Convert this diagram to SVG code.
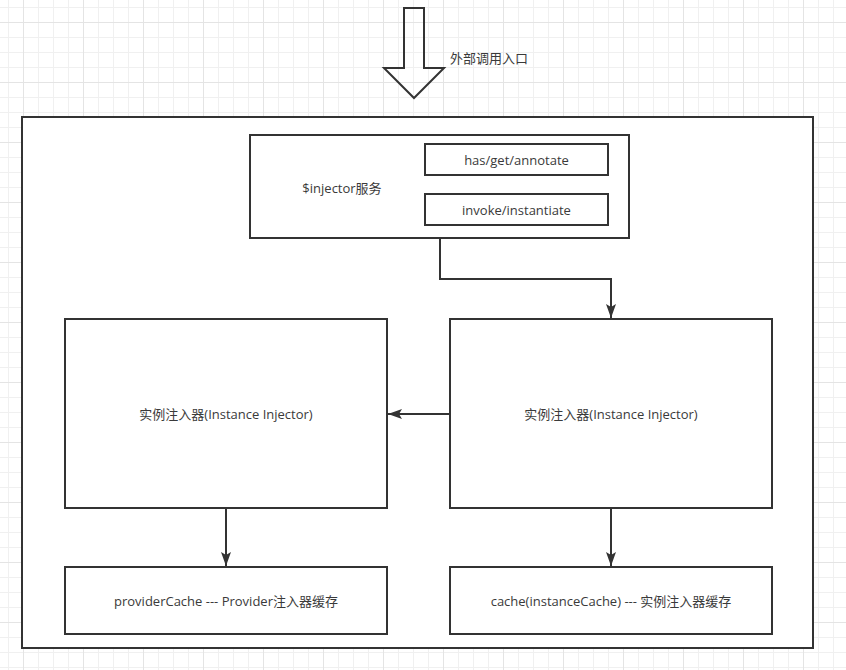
<svg xmlns="http://www.w3.org/2000/svg" width="846" height="670" viewBox="0 0 846 670">
  <style>
    .box { fill: #ffffff; stroke: #333333; stroke-width: 2; }
    .line { fill: none; stroke: #333333; stroke-width: 2; }
    .lbl { font-family: "Open Sans", "Noto Sans CJK SC", sans-serif; font-size: 13px; fill: #3a3a3a; dominant-baseline: central; }
    .mid { text-anchor: middle; }
  </style>
  <defs>
    <pattern id="grid" x="23" y="22" width="60" height="60" patternUnits="userSpaceOnUse">
      <path d="M15.5 0V60M30.5 0V60M45.5 0V60M0 15.5H60M0 30.5H60M0 45.5H60" stroke="#f0f0f0" stroke-width="1" fill="none"/>
      <path d="M0.5 0V60M0 0.5H60" stroke="#e4e4e4" stroke-width="1" fill="none"/>
    </pattern>
    <marker id="arr" viewBox="0 0 14 10" refX="14" refY="5" markerWidth="14" markerHeight="10" markerUnits="userSpaceOnUse" orient="auto">
      <path d="M0 0L14 5L0 10L3 5Z" fill="#333333"/>
    </marker>
  </defs>
  <rect width="846" height="670" fill="#ffffff"/>
  <rect width="846" height="670" fill="url(#grid)"/>

  <g id="entry">
    <path class="line" d="M404 8H424V68H444L414 98L384 68H404Z" fill="#ffffff"/>
    <text class="lbl" x="450" y="58">外部调用入口</text>
  </g>

  <g id="container">
    <rect class="box" x="22" y="117" width="791" height="531"/>
  </g>

  <g id="injector-service">
    <rect class="box" x="250" y="135" width="379" height="103"/>
    <text class="lbl mid" x="342" y="188">$injector服务</text>
  </g>
  <g id="has-get">
    <rect class="box" x="425" y="144" width="183" height="31"/>
    <text class="lbl mid" x="516.5" y="160">has/get/annotate</text>
  </g>
  <g id="invoke">
    <rect class="box" x="425" y="194" width="183" height="31"/>
    <text class="lbl mid" x="516.5" y="210">invoke/instantiate</text>
  </g>

  <g id="provider-injector">
    <rect class="box" x="65" y="319" width="322" height="189"/>
    <text class="lbl mid" x="226" y="414">实例注入器(Instance Injector)</text>
  </g>
  <g id="instance-injector">
    <rect class="box" x="450" y="319" width="322" height="189"/>
    <text class="lbl mid" x="611" y="414">实例注入器(Instance Injector)</text>
  </g>
  <g id="provider-cache">
    <rect class="box" x="65" y="567" width="322" height="67"/>
    <text class="lbl mid" x="226" y="601">providerCache --- Provider注入器缓存</text>
  </g>
  <g id="instance-cache">
    <rect class="box" x="450" y="567" width="322" height="67"/>
    <text class="lbl mid" x="611" y="601">cache(instanceCache) --- 实例注入器缓存</text>
  </g>

  <g id="connectors">
    <path class="line" d="M440 238V279H611V318" marker-end="url(#arr)"/>
    <path class="line" d="M450 414H388" marker-end="url(#arr)"/>
    <path class="line" d="M226 508V566" marker-end="url(#arr)"/>
    <path class="line" d="M611 508V566" marker-end="url(#arr)"/>
  </g>
</svg>
